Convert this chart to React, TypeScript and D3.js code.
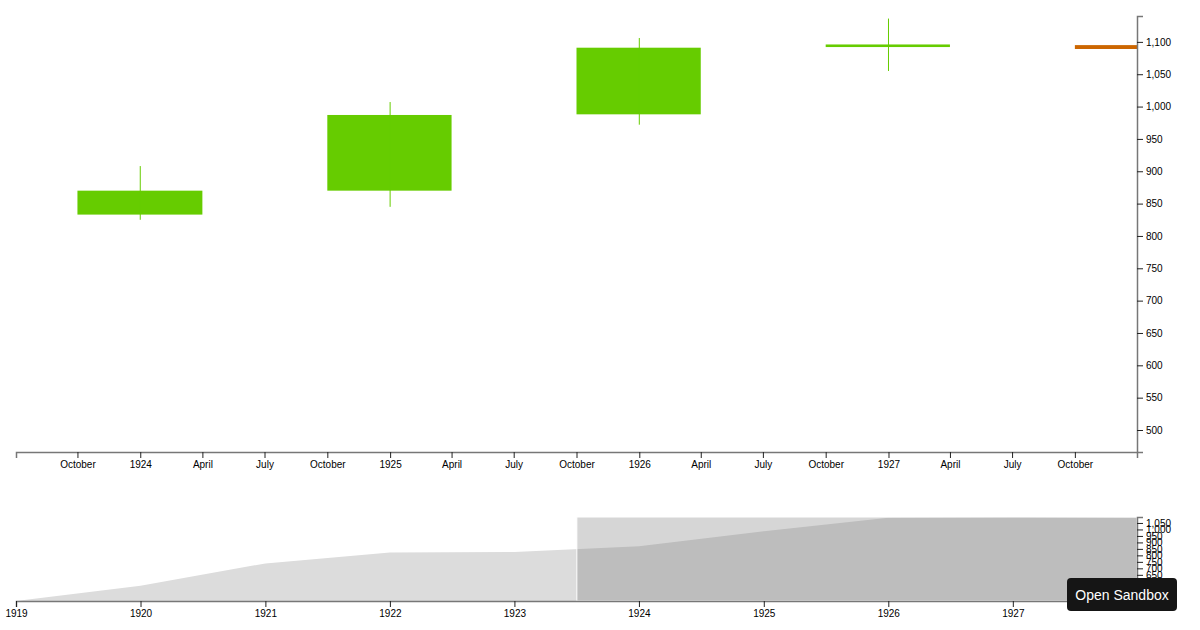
import { useEffect, useRef } from 'react';
import * as d3 from 'd3';

const WIDTH = 1200;
const HEIGHT = 630;
const MAIN = { left: 16, top: 16, right: 1137, bottom: 452 };
const MINI = { left: 16, top: 517, right: 1137, bottom: 601 };

// yearly closes (used by the overview area)
const years = [1919, 1920, 1921, 1922, 1923, 1924, 1925, 1926, 1927, 1928];
const closes = [448, 566, 738, 822, 826, 870, 987, 1091, 1096, 1089];

// candles visible in the zoomed view
const candleYears = [1924, 1925, 1926, 1927, 1928];
const opens = [833, 870, 988, 1092, 1095];
const highs = [908, 1007, 1106, 1136, 1114];
const lows = [825, 845, 972, 1055, 1057];

const mainXDomain: [Date, Date] = [new Date(1923, 6, 3), new Date(1927, 11, 31)];
const miniXDomain: [Date, Date] = [new Date(1919, 0, 1), new Date(1927, 11, 31)];
const mainYDomain: [number, number] = [466, 1140];

const UP = '#66cc00';
const DOWN = '#cc6600';
const FONT = '"Liberation Sans", Arial, sans-serif';

function styleAxis(g: d3.Selection<SVGGElement, unknown, null, undefined>) {
  g.attr('font-family', FONT).attr('font-size', 10);
  g.select('.domain').attr('stroke', '#777').attr('stroke-width', 1.5);
  g.selectAll('.tick line').attr('stroke', '#222');
  g.selectAll('.tick text').attr('fill', '#000');
}

export default function App() {
  const svgRef = useRef<SVGSVGElement>(null);

  useEffect(() => {
    const svg = d3.select(svgRef.current);
    svg.selectAll('*').remove();

    const defs = svg.append('defs');
    defs
      .append('clipPath')
      .attr('id', 'clip-main')
      .append('rect')
      .attr('x', MAIN.left)
      .attr('y', MAIN.top)
      .attr('width', MAIN.right - MAIN.left + 1)
      .attr('height', MAIN.bottom - MAIN.top);
    defs
      .append('clipPath')
      .attr('id', 'clip-mini')
      .append('rect')
      .attr('x', MINI.left)
      .attr('y', MINI.top)
      .attr('width', MINI.right - MINI.left)
      .attr('height', MINI.bottom - MINI.top);

    // ---- main candlestick chart
    const x = d3.scaleTime().domain(mainXDomain).range([MAIN.left, MAIN.right]);
    const y = d3.scaleLinear().domain(mainYDomain).range([MAIN.bottom, MAIN.top]);

    const candles = candleYears.map((yr, i) => ({
      date: new Date(yr, 0, 1),
      open: opens[i],
      high: highs[i],
      low: lows[i],
      close: closes[years.indexOf(yr)],
    }));

    const plot = svg.append('g').attr('clip-path', 'url(#clip-main)');
    candles.forEach((c) => {
      const color = c.close >= c.open ? UP : DOWN;
      const x0 = x(d3.timeMonth.offset(c.date, -3));
      const x1 = x(d3.timeMonth.offset(c.date, 3));
      const top = y(Math.max(c.open, c.close));
      const bot = y(Math.min(c.open, c.close));
      plot
        .append('rect')
        .attr('x', x0)
        .attr('y', top)
        .attr('width', x1 - x0)
        .attr('height', Math.max(1, bot - top))
        .attr('fill', color);
      plot
        .append('line')
        .attr('x1', x(c.date))
        .attr('x2', x(c.date))
        .attr('y1', y(c.high))
        .attr('y2', y(c.low))
        .attr('stroke', color)
        .attr('stroke-width', 1);
    });

    svg
      .append('g')
      .attr('transform', `translate(0,${MAIN.bottom})`)
      .call(d3.axisBottom(x))
      .call(styleAxis);

    svg
      .append('g')
      .attr('transform', `translate(${MAIN.right},0)`)
      .call(d3.axisRight(y))
      .call(styleAxis);

    // ---- overview chart with brush
    const mx = d3.scaleTime().domain(miniXDomain).range([MINI.left, MINI.right]);
    const my = d3
      .scaleLinear()
      .domain(d3.extent(closes) as [number, number])
      .range([MINI.bottom, MINI.top]);

    const area = d3
      .area<number>()
      .x((_, i) => mx(new Date(years[i], 0, 1)))
      .y0(MINI.bottom)
      .y1((d) => my(d));

    svg
      .append('path')
      .attr('clip-path', 'url(#clip-mini)')
      .attr('d', area(closes))
      .attr('fill', 'gainsboro');

    const bx0 = mx(mainXDomain[0]);
    const bx1 = mx(mainXDomain[1]);
    svg
      .append('rect')
      .attr('x', bx0)
      .attr('y', MINI.top)
      .attr('width', bx1 - bx0)
      .attr('height', MINI.bottom - MINI.top)
      .attr('fill', '#777')
      .attr('fill-opacity', 0.3)
      .attr('stroke', '#fff');

    svg
      .append('g')
      .attr('transform', `translate(0,${MINI.bottom})`)
      .call(d3.axisBottom(mx))
      .call(styleAxis);

    svg
      .append('g')
      .attr('transform', `translate(${MINI.right},0)`)
      .call(d3.axisRight(my))
      .call(styleAxis);

    // ---- embed button
    const btn = svg.append('g');
    btn
      .append('rect')
      .attr('x', 1067)
      .attr('y', 578)
      .attr('width', 110)
      .attr('height', 33)
      .attr('rx', 4)
      .attr('fill', '#151515');
    btn
      .append('text')
      .attr('x', 1122)
      .attr('y', 600)
      .attr('text-anchor', 'middle')
      .attr('fill', '#fff')
      .attr('font-family', FONT)
      .attr('font-size', 14)
      .text('Open Sandbox');
  }, []);

  return (
    <svg
      ref={svgRef}
      width={WIDTH}
      height={HEIGHT}
      style={{ position: 'absolute', left: 0, top: 0, background: '#fff' }}
    />
  );
}
